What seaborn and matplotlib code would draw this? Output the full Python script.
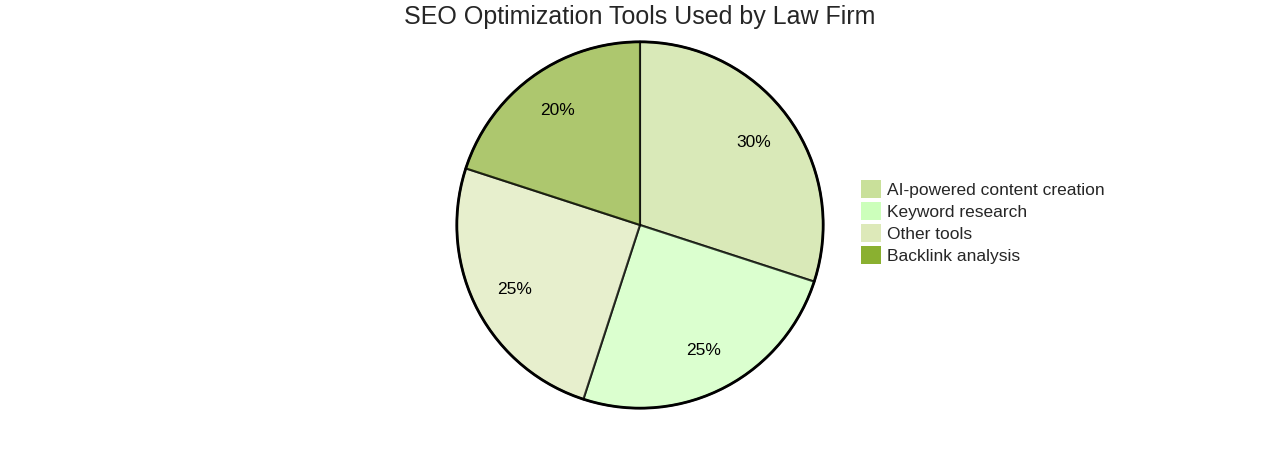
import matplotlib
matplotlib.use("Agg")
import matplotlib.pyplot as plt
import seaborn as sns
from matplotlib.patches import Patch, Circle

sns.set_theme(style="white")
plt.rcParams['font.family'] = ['Liberation Sans', 'DejaVu Sans']

labels = ["AI-powered content creation", "Keyword research", "Other tools", "Backlink analysis"]
values = [30, 25, 25, 20]
colors = ["#c9e09a", "#ccffbb", "#dde9b9", "#8ab030"]

fig = plt.figure(figsize=(12.8, 4.5), dpi=100)
ax = fig.add_axes([(640 - 185) / 1280, (450 - 410) / 450, 370 / 1280, 370 / 450])

wedges, texts, autotexts = ax.pie(
    values, colors=colors, startangle=90, counterclock=False,
    autopct='%1.0f%%', pctdistance=0.77,
    wedgeprops=dict(edgecolor="black", linewidth=1.5, alpha=0.7),
    textprops=dict(fontsize=12.5, color="black"))
ax.add_patch(Circle((0, 0), 1.0, fill=False, edgecolor="black", linewidth=2))
ax.set_aspect('equal')
ax.set_xlim(-1.01, 1.01)
ax.set_ylim(-1.01, 1.01)
ax.axis('off')

handles = [Patch(facecolor=c, edgecolor="none") for c in colors]
fig.legend(handles, labels, loc='center left', bbox_to_anchor=(845 / 1280, 1 - 222 / 450),
           frameon=False, fontsize=12.5, handlelength=1.2, handleheight=1.2,
           handletextpad=0.3, labelspacing=0.25)

fig.text(0.5, 1 - 17 / 450, "SEO Optimization Tools Used by Law Firm",
         ha='center', va='center', fontsize=18)

fig.savefig("out.png", dpi=100)
